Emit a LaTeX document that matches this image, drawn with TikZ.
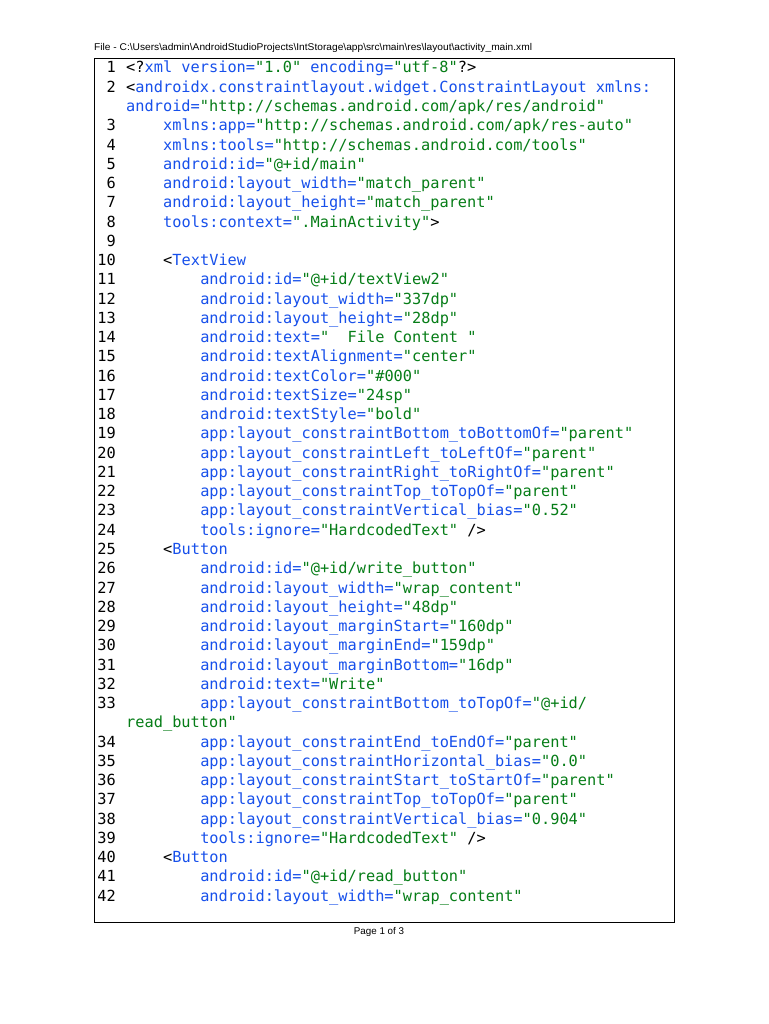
\documentclass[tikz,border=0pt]{standalone}
\usepackage{fontspec}
\setmainfont{Liberation Sans}
\setmonofont{DejaVu Sans Mono}
\definecolor{cb}{HTML}{1750EB}
\definecolor{cg}{HTML}{067D17}
\newcommand\B[1]{\textcolor{cb}{#1}}
\newcommand\G[1]{\textcolor{cg}{#1}}
\newcommand\R[4]{% row, number, indent, content
  \node[code,anchor=base east] (n#1) at (116pt,{-(73pt+19.26pt*#1)}) {#2};
  \node[code,anchor=base west] (c#1) at ({126pt+9.26pt*#3},{-(73pt+19.26pt*#1)}) {#4};}
\newcommand\AT[2]{\B{#1=}\G{"#2"}}
\begin{document}
\begin{tikzpicture}[x=1pt,y=1pt,code/.style={inner sep=0pt,font=\ttfamily\fontsize{15.3}{18}\selectfont}]
\useasboundingbox (0,0) rectangle (768,-1024);
\fill[white] (0,0) rectangle (768,-1024);
\node[anchor=base west,inner sep=0pt,font=\fontsize{9.8}{11}\selectfont] (hdr) at (94,-51) {\scalebox{1.04}[1]{File - C:\textbackslash Users\textbackslash admin\textbackslash AndroidStudioProjects\textbackslash IntStorage\textbackslash app\textbackslash src\textbackslash main\textbackslash res\textbackslash layout\textbackslash activity\_main.xml}};
\draw[line width=0.8pt] (94,-58) rectangle (674,-922);
\node[anchor=base,inner sep=0pt,font=\fontsize{9.8}{11}\selectfont] (ftr) at (379,-934) {Page 1 of 3};
\R{0}{1}{0}{<?\B{xml version=}\G{"1.0"} \B{encoding=}\G{"utf-8"}?>}
\R{1}{2}{0}{<\B{androidx.constraintlayout.widget.ConstraintLayout xmlns:}}
\R{2}{}{0}{\AT{android}{http://schemas.android.com/apk/res/android}}
\R{3}{3}{4}{\AT{xmlns:app}{http://schemas.android.com/apk/res-auto}}
\R{4}{4}{4}{\AT{xmlns:tools}{http://schemas.android.com/tools}}
\R{5}{5}{4}{\AT{android:id}{@+id/main}}
\R{6}{6}{4}{\AT{android:layout\_width}{match\_parent}}
\R{7}{7}{4}{\AT{android:layout\_height}{match\_parent}}
\R{8}{8}{4}{\AT{tools:context}{.MainActivity}>}
\R{9}{9}{0}{}
\R{10}{10}{4}{<\B{TextView}}
\R{11}{11}{8}{\AT{android:id}{@+id/textView2}}
\R{12}{12}{8}{\AT{android:layout\_width}{337dp}}
\R{13}{13}{8}{\AT{android:layout\_height}{28dp}}
\R{14}{14}{8}{\AT{android:text}{\ \ File\ Content\ }}
\R{15}{15}{8}{\AT{android:textAlignment}{center}}
\R{16}{16}{8}{\AT{android:textColor}{\#000}}
\R{17}{17}{8}{\AT{android:textSize}{24sp}}
\R{18}{18}{8}{\AT{android:textStyle}{bold}}
\R{19}{19}{8}{\AT{app:layout\_constraintBottom\_toBottomOf}{parent}}
\R{20}{20}{8}{\AT{app:layout\_constraintLeft\_toLeftOf}{parent}}
\R{21}{21}{8}{\AT{app:layout\_constraintRight\_toRightOf}{parent}}
\R{22}{22}{8}{\AT{app:layout\_constraintTop\_toTopOf}{parent}}
\R{23}{23}{8}{\AT{app:layout\_constraintVertical\_bias}{0.52}}
\R{24}{24}{8}{\AT{tools:ignore}{HardcodedText} />}
\R{25}{25}{4}{<\B{Button}}
\R{26}{26}{8}{\AT{android:id}{@+id/write\_button}}
\R{27}{27}{8}{\AT{android:layout\_width}{wrap\_content}}
\R{28}{28}{8}{\AT{android:layout\_height}{48dp}}
\R{29}{29}{8}{\AT{android:layout\_marginStart}{160dp}}
\R{30}{30}{8}{\AT{android:layout\_marginEnd}{159dp}}
\R{31}{31}{8}{\AT{android:layout\_marginBottom}{16dp}}
\R{32}{32}{8}{\AT{android:text}{Write}}
\R{33}{33}{8}{\B{app:layout\_constraintBottom\_toTopOf=}\G{"@+id/}}
\R{34}{}{0}{\G{read\_button"}}
\R{35}{34}{8}{\AT{app:layout\_constraintEnd\_toEndOf}{parent}}
\R{36}{35}{8}{\AT{app:layout\_constraintHorizontal\_bias}{0.0}}
\R{37}{36}{8}{\AT{app:layout\_constraintStart\_toStartOf}{parent}}
\R{38}{37}{8}{\AT{app:layout\_constraintTop\_toTopOf}{parent}}
\R{39}{38}{8}{\AT{app:layout\_constraintVertical\_bias}{0.904}}
\R{40}{39}{8}{\AT{tools:ignore}{HardcodedText} />}
\R{41}{40}{4}{<\B{Button}}
\R{42}{41}{8}{\AT{android:id}{@+id/read\_button}}
\R{43}{42}{8}{\AT{android:layout\_width}{wrap\_content}}
\end{tikzpicture}
\end{document}
